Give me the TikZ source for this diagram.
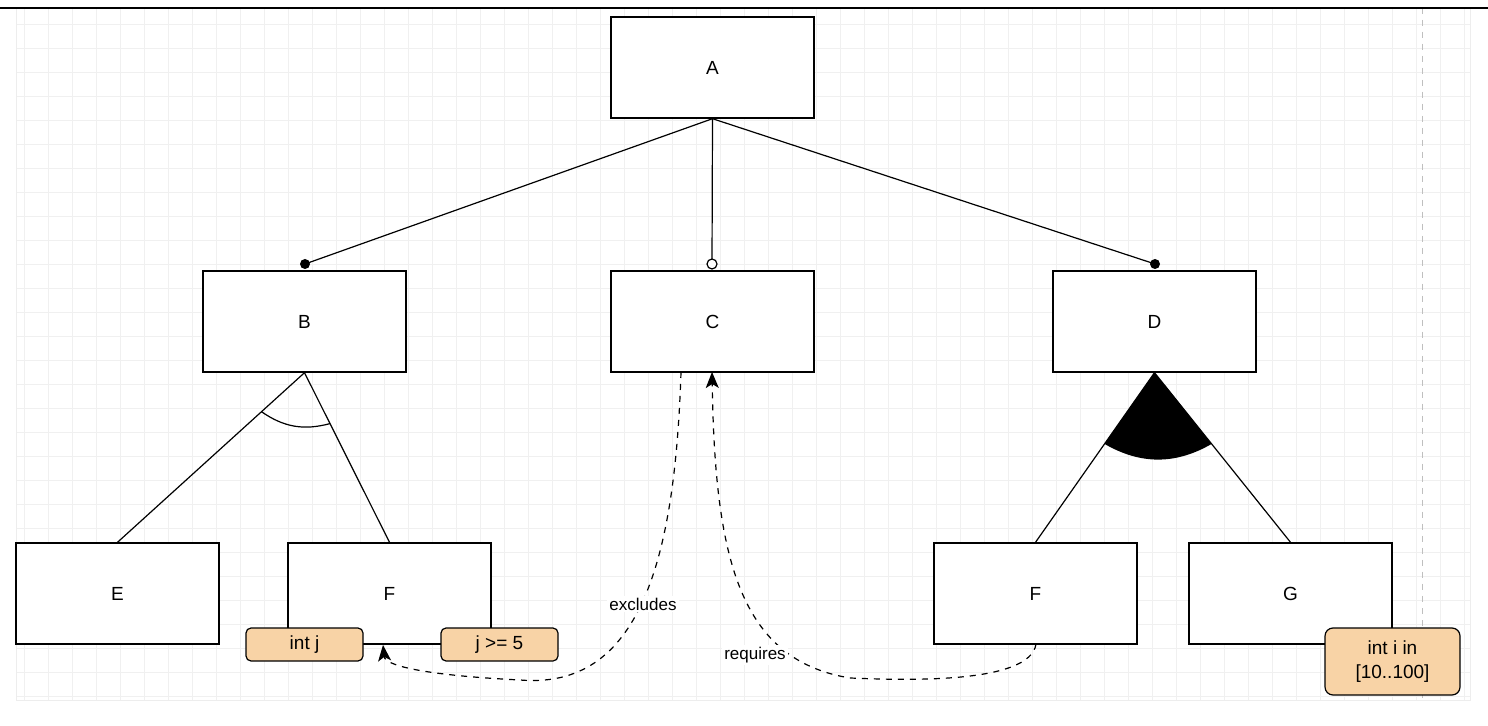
\documentclass[tikz,border=0pt]{standalone}
\usepackage{fontspec}
\setmainfont{Liberation Sans}
\usetikzlibrary{arrows.meta,calc}
\definecolor{attrfill}{HTML}{F8D3A6}
\begin{document}
\begin{tikzpicture}[x=0.5pt,y=-0.5pt,
  feat/.style={draw,line width=0.7pt,fill=white,minimum width=101.5pt,minimum height=50.5pt,inner sep=0pt,font=\fontsize{9.5}{11}\selectfont},
  attr/.style={draw,line width=0.6pt,fill=attrfill,rounded corners=2.5pt,minimum width=58.5pt,minimum height=16.5pt,inner sep=0pt,font=\fontsize{9.5}{11}\selectfont,align=center},
  lab/.style={fill=white,inner sep=1pt,font=\fontsize{8.5}{10}\selectfont},
  dep/.style={dashed,line width=0.6pt,-{Stealth[length=8pt,width=6.5pt,inset=2pt]}}]
\useasboundingbox (0,0) rectangle (1488,726);
\fill[white] (0,0) rectangle (1488,726);
\draw[gray!12,line width=0.3pt,step=12pt] (16,8) grid (1470,700);
\draw[black!7,line width=0.3pt] (16,8) rectangle (1470,700);
\draw[gray!50,dashed,line width=0.4pt] (1422,8) -- (1422,700);
\draw[line width=1pt] (0,8) -- (1488,8);
\node[feat] (A) at (712.5,67.5) {A};
\node[feat] (B) at (304.5,321.5) {B};
\node[feat] (C) at (712.5,321.5) {C};
\node[feat] (D) at (1154.5,321.5) {D};
\node[feat] (E) at (117.5,593.5) {E};
\node[feat] (F1) at (389.5,593.5) {F};
\node[feat] (F2) at (1035.5,593.5) {F};
\node[feat] (G) at (1290.5,593.5) {G};
\node[attr] (ij) at (304.5,644.5) {int j};
\node[attr] (jg) at (499.5,644.5) {j >= 5};
\node[attr,minimum width=67.5pt,minimum height=33.5pt,rounded corners=4pt] (ii) at (1392.5,661.5) {int i in\\[1pt] [10..100]};
% A edges
\coordinate (bt) at (305,264); \coordinate (ct) at (712,264); \coordinate (dt) at (1155,264);
\draw[line width=0.6pt] (A.south) -- (bt);
\draw[line width=0.6pt] (A.south) -- (ct);
\draw[line width=0.6pt] (A.south) -- (dt);
\fill (bt) circle (5);
\fill (dt) circle (5);
\draw[line width=0.6pt,fill=white] (ct) circle (5);
% B group
\draw[line width=0.6pt] (B.south) -- (E.north);
\draw[line width=0.6pt] (B.south) -- (F1.north);
\draw[line width=0.6pt] ($(B.south)!0.23!(E.north)$) to[bend right=25] ($(B.south)!0.3!(F1.north)$);
% D group
\draw[line width=0.6pt] (D.south) -- (F2.north);
\draw[line width=0.6pt] (D.south) -- (G.north);
\fill (D.south) -- ($(D.south)!0.42!(F2.north)$) to[bend right=30] ($(D.south)!0.42!(G.north)$) -- cycle;
% dependencies
\coordinate (cs1) at (681,372);
\coordinate (f1b) at (383,645);
\draw[dep] (cs1) .. controls (675,560) and (640,690) .. (520,680) .. controls (420,675) and (385,665) .. (f1b);
\node[lab] (ex) at (643,604) {excludes};
\coordinate (f2b) at (1036,644);
\coordinate (cs2) at (712,372);
\draw[dep] (f2b) .. controls (1030,685) and (900,680) .. (850,678) .. controls (740,660) and (715,560) .. (cs2);
\node[lab] (rq) at (755,655) {requires};
\end{tikzpicture}
\end{document}
